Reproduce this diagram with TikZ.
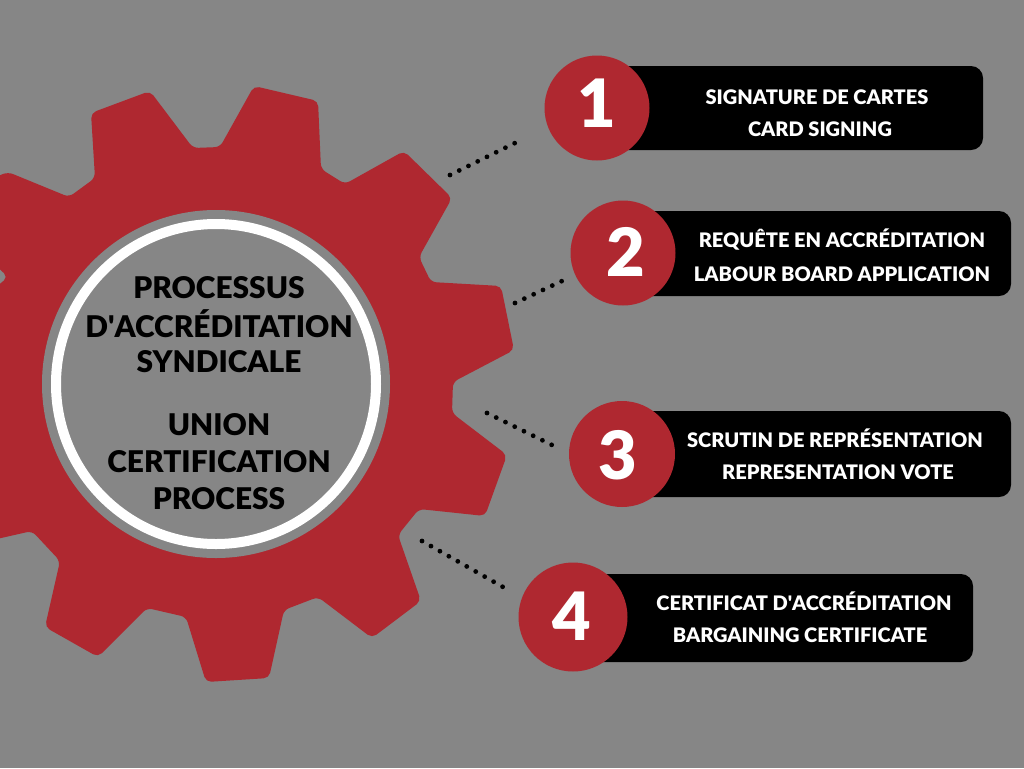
\documentclass[tikz,border=0pt]{standalone}
\usepackage{fontspec}
\setmainfont{Lato}[BoldFont={Lato Black}]
\usetikzlibrary{positioning}
\definecolor{bggray}{RGB}{134,134,134}
\definecolor{gearred}{RGB}{175,40,48}
\newcommand{\px}{0.75pt}
\tikzset{
    numcircle/.style={circle, fill=gearred, inner sep=0pt},
    numtext/.style={text=white, inner sep=0pt, font=\fontsize{50}{50}\selectfont\bfseries},
    labelbox/.style={rectangle, fill=black, rounded corners=9pt, inner sep=0pt},
    boxtext/.style={text=white, inner sep=0pt, font=\fontsize{15}{15}\selectfont\bfseries},
    titletext/.style={text=black, inner sep=0pt, font=\fontsize{22.4}{22.4}\selectfont\bfseries},
    dotline/.style={black, line width=3.6pt, line cap=round, dash pattern=on 0pt off 7.72pt}
}

\begin{document}
\begin{tikzpicture}[x=0.75pt, y=-0.75pt]
    \useasboundingbox (0, 0) rectangle (1024, 768);
    \fill[bggray] (0, 0) rectangle (1024, 768);

    % gear
    \fill[gearred, rounded corners=4pt] (-12, 180) -- (8, 172) -- (69, 197) -- (95, 178) -- (91, 113)
        -- (150, 91) -- (193, 148) -- (220, 147) -- (254, 86) -- (318, 101) -- (321, 169) -- (345, 184)
        -- (404, 151) -- (452, 198) -- (419, 257) -- (431, 282) -- (501, 286) -- (514, 350) -- (453, 382)
        -- (452, 413) -- (507, 455) -- (485, 516) -- (419, 509) -- (398, 535) -- (421, 601) -- (372, 638)
        -- (318, 597) -- (284, 610) -- (269, 678) -- (206, 682) -- (186, 617) -- (147, 608) -- (98, 657)
        -- (45, 627) -- (60, 561) -- (32, 531) -- (-12, 541) -- (-12, 294) -- (8, 277) -- (-12, 258) -- cycle;

    \node[circle, fill=bggray, minimum size=348*\px, inner sep=0pt] (hole) at (216, 384) {};
    \node[circle, draw=white, line width=7.5pt, minimum size=320*\px, inner sep=0pt] (ring) at (216, 384) {};

    \node[titletext] (t1) at (219, 288) {PROCESSUS};
    \node[titletext] (t2) at (219, 324) {D\textquotesingle ACCRÉDITATION};
    \node[titletext] (t3) at (219, 362) {SYNDICALE};
    \node[titletext] (t4) at (219, 425) {UNION};
    \node[titletext] (t5) at (219, 462) {CERTIFICATION};
    \node[titletext] (t6) at (219, 499) {PROCESS};

    % boxes
    \node[labelbox, minimum width=386*\px, minimum height=84*\px] (b1) at (790, 108) {};
    \node[labelbox, minimum width=388*\px, minimum height=85*\px] (b2) at (817, 253.5) {};
    \node[labelbox, minimum width=389*\px, minimum height=86*\px] (b3) at (816.5, 454) {};
    \node[labelbox, minimum width=400*\px, minimum height=88*\px] (b4) at (773, 618) {};

    \node[numcircle, minimum size=105*\px] (n1) at (597, 108) {};
    \node[numcircle, minimum size=105*\px] (n2) at (623, 253) {};
    \node[numcircle, minimum size=106*\px] (n3) at (622, 454) {};
    \node[numcircle, minimum size=109*\px] (n4) at (573, 617) {};

    \node[numtext] (d1) at (597, 103) {1};
    \node[numtext] (d2) at (626, 252) {2};
    \node[numtext] (d3) at (618, 455) {3};
    \node[numtext] (d4) at (572, 616) {4};

    \node[boxtext] (l1a) at (817, 97) {SIGNATURE DE CARTES};
    \node[boxtext] (l1b) at (820, 129) {CARD SIGNING};
    \node[boxtext] (l2a) at (842, 239.5) {REQUÊTE EN ACCRÉDITATION};
    \node[boxtext] (l2b) at (842, 274) {LABOUR BOARD APPLICATION};
    \node[boxtext] (l3a) at (835, 438) {SCRUTIN DE REPRÉSENTATION};
    \node[boxtext] (l3b) at (838, 472) {REPRESENTATION VOTE};
    \node[boxtext] (l4a) at (804, 601) {CERTIFICAT D\textquotesingle ACCRÉDITATION};
    \node[boxtext] (l4b) at (800, 635) {BARGAINING CERTIFICATE};

    % dots
    \coordinate (d1a) at (450, 175);
    \coordinate (d1b) at (515, 143);
    \coordinate (d2a) at (515, 303);
    \coordinate (d2b) at (562, 281);
    \coordinate (d3a) at (487, 413);
    \coordinate (d3b) at (552, 445);
    \coordinate (d4a) at (422, 541);
    \coordinate (d4b) at (503, 587);
    \draw[dotline] (d1a) -- (d1b);
    \draw[dotline] (d2a) -- (d2b);
    \draw[dotline] (d3a) -- (d3b);
    \draw[dotline] (d4a) -- (d4b);
\end{tikzpicture}
\end{document}
